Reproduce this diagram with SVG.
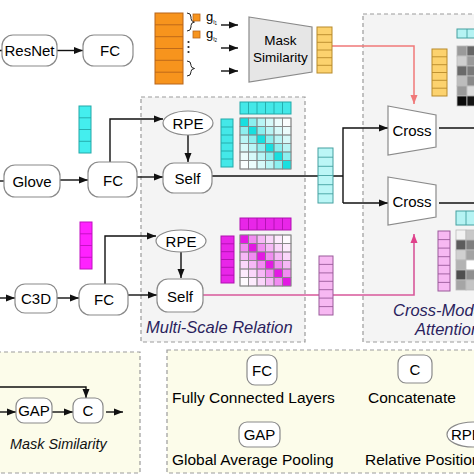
<svg xmlns="http://www.w3.org/2000/svg" xmlns:xlink="http://www.w3.org/1999/xlink" width="474" height="474" viewBox="0 0 474 474">
<defs>
<style>
.t{font-family:"Liberation Sans",Arial,Helvetica,sans-serif;font-size:15px;fill:#000;text-anchor:middle;dominant-baseline:central}
.l{font-family:"Liberation Sans",Arial,Helvetica,sans-serif;font-size:15.5px;fill:#000}
.it{font-family:"Liberation Sans",Arial,Helvetica,sans-serif;font-style:italic;font-size:16.5px;fill:#2b1f5e}
.box{fill:#fff;stroke:#8a8a8a;stroke-width:1.2}
.dash{stroke:#9b9b9b;stroke-width:1.2;stroke-dasharray:4 3}
.ln{fill:none;stroke:#111;stroke-width:1.4}
.ar{marker-end:url(#ah)}
.div{fill:none;stroke-width:0.9}
.g{stroke:#bbb;stroke-width:0.8}
</style>
<marker id="ah" markerWidth="9" markerHeight="8" refX="9" refY="4" orient="auto" markerUnits="userSpaceOnUse"><path d="M0,0.5 L9,4 L0,7.5z" fill="#111"/></marker>
<marker id="ahp" markerWidth="9" markerHeight="8" refX="9" refY="4" orient="auto" markerUnits="userSpaceOnUse"><path d="M0,0.5 L9,4 L0,7.5z" fill="#e0408a"/></marker>
<marker id="ahr" markerWidth="9" markerHeight="8" refX="9" refY="4" orient="auto" markerUnits="userSpaceOnUse"><path d="M0,0.5 L9,4 L0,7.5z" fill="#f07878"/></marker>
<g id="mat" stroke="#888" stroke-width="0.8">
<rect width="51" height="51" fill="#fff"/>
<rect x="0" y="0" width="8.5" height="8.5" fill="currentColor" fill-opacity=".9"/><rect x="8.5" y="0" width="8.5" height="8.5" fill="currentColor" fill-opacity=".45"/><rect x="17" y="0" width="8.5" height="8.5" fill="currentColor" fill-opacity=".28"/><rect x="25.5" y="0" width="8.5" height="8.5" fill="currentColor" fill-opacity=".16"/><rect x="34" y="0" width="8.5" height="8.5" fill="currentColor" fill-opacity=".08"/><rect x="42.5" y="0" width="8.5" height="8.5" fill="currentColor" fill-opacity=".02"/>
<rect x="0" y="8.5" width="8.5" height="8.5" fill="currentColor" fill-opacity=".45"/><rect x="8.5" y="8.5" width="8.5" height="8.5" fill="currentColor" fill-opacity=".9"/><rect x="17" y="8.5" width="8.5" height="8.5" fill="currentColor" fill-opacity=".45"/><rect x="25.5" y="8.5" width="8.5" height="8.5" fill="currentColor" fill-opacity=".28"/><rect x="34" y="8.5" width="8.5" height="8.5" fill="currentColor" fill-opacity=".16"/><rect x="42.5" y="8.5" width="8.5" height="8.5" fill="currentColor" fill-opacity=".08"/>
<rect x="0" y="17" width="8.5" height="8.5" fill="currentColor" fill-opacity=".28"/><rect x="8.5" y="17" width="8.5" height="8.5" fill="currentColor" fill-opacity=".45"/><rect x="17" y="17" width="8.5" height="8.5" fill="currentColor" fill-opacity=".9"/><rect x="25.5" y="17" width="8.5" height="8.5" fill="currentColor" fill-opacity=".45"/><rect x="34" y="17" width="8.5" height="8.5" fill="currentColor" fill-opacity=".28"/><rect x="42.5" y="17" width="8.5" height="8.5" fill="currentColor" fill-opacity=".16"/>
<rect x="0" y="25.5" width="8.5" height="8.5" fill="currentColor" fill-opacity=".16"/><rect x="8.5" y="25.5" width="8.5" height="8.5" fill="currentColor" fill-opacity=".28"/><rect x="17" y="25.5" width="8.5" height="8.5" fill="currentColor" fill-opacity=".45"/><rect x="25.5" y="25.5" width="8.5" height="8.5" fill="currentColor" fill-opacity=".9"/><rect x="34" y="25.5" width="8.5" height="8.5" fill="currentColor" fill-opacity=".45"/><rect x="42.5" y="25.5" width="8.5" height="8.5" fill="currentColor" fill-opacity=".28"/>
<rect x="0" y="34" width="8.5" height="8.5" fill="currentColor" fill-opacity=".08"/><rect x="8.5" y="34" width="8.5" height="8.5" fill="currentColor" fill-opacity=".16"/><rect x="17" y="34" width="8.5" height="8.5" fill="currentColor" fill-opacity=".28"/><rect x="25.5" y="34" width="8.5" height="8.5" fill="currentColor" fill-opacity=".45"/><rect x="34" y="34" width="8.5" height="8.5" fill="currentColor" fill-opacity=".9"/><rect x="42.5" y="34" width="8.5" height="8.5" fill="currentColor" fill-opacity=".45"/>
<rect x="0" y="42.5" width="8.5" height="8.5" fill="currentColor" fill-opacity=".02"/><rect x="8.5" y="42.5" width="8.5" height="8.5" fill="currentColor" fill-opacity=".08"/><rect x="17" y="42.5" width="8.5" height="8.5" fill="currentColor" fill-opacity=".16"/><rect x="25.5" y="42.5" width="8.5" height="8.5" fill="currentColor" fill-opacity=".28"/><rect x="34" y="42.5" width="8.5" height="8.5" fill="currentColor" fill-opacity=".45"/><rect x="42.5" y="42.5" width="8.5" height="8.5" fill="currentColor" fill-opacity=".9"/>
</g>
</defs>
<rect width="474" height="474" fill="#fff"/>

<!-- group regions -->
<g id="multi-scale-region">
<rect class="dash" x="141" y="97" width="164" height="245" fill="#f4f4f4"/>
<text class="it" x="146" y="333">Multi-Scale Relation</text>
</g>
<g id="cross-modal-region">
<rect class="dash" x="363" y="14" width="130" height="328" fill="#f4f4f4"/>
<text class="it" x="393" y="316">Cross-Modal</text>
<text class="it" x="415" y="335">Attention</text>
</g>
<g id="mask-similarity-region">
<rect class="dash" x="-10" y="352" width="150" height="121" fill="#fcfcea"/>
<text class="it" x="10" y="449" style="fill:#111;font-size:14.4px">Mask Similarity</text>
</g>
<g id="legend">
<rect class="dash" x="167" y="350" width="330" height="123" fill="#fcfcea"/>
<rect class="box" x="247" y="355" width="30" height="30" rx="8"/><text class="t" x="262" y="370">FC</text>
<text class="l" x="172" y="403">Fully Connected Layers</text>
<rect class="box" x="398" y="355" width="34" height="28" rx="8"/><text class="t" x="415" y="369">C</text>
<text class="l" x="368" y="403">Concatenate</text>
<rect class="box" x="239" y="422" width="41" height="25" rx="8"/><text class="t" x="259.5" y="434.5">GAP</text>
<text class="l" x="172" y="465">Global Average Pooling</text>
<ellipse class="box" cx="473" cy="434.5" rx="26" ry="12.5"/><text class="t" x="451" y="434.5" style="text-anchor:start">RPE</text>
<text class="l" x="365" y="465">Relative Position</text>
</g>

<!-- connectors -->
<g id="connectors">
<path class="ln" d="M0,50.5 H2"/>
<path class="ln ar" d="M57,50.5 H83"/>
<path class="ln" d="M0,181 H4"/>
<path class="ln ar" d="M60,180 H88"/>
<path class="ln ar" d="M110,162 V119 H163"/>
<path class="ln ar" d="M137,177 H163"/>
<path class="ln ar" d="M188,135 V162"/>
<path class="ln" d="M212,176 H343"/>
<path class="ln ar" d="M343,203 V128 H388"/>
<path class="ln ar" d="M343,203 H388"/>
<path class="ln" d="M439,128 H474"/>
<path class="ln" d="M439,203 H474"/>
<path class="ln ar" d="M0,298 H15"/>
<path class="ln ar" d="M57,298 H79"/>
<path class="ln ar" d="M105,284 V236 H156"/>
<path class="ln ar" d="M128,295 H157"/>
<path class="ln ar" d="M181,252 V278"/>
<path d="M203,295 H414 V234" fill="none" stroke="#d8589a" stroke-width="1.6" marker-end="url(#ahp)"/>
<path d="M332,46 H414 V104" fill="none" stroke="#f07878" stroke-width="1.5" marker-end="url(#ahr)"/>
<path class="ln ar" d="M221,25 H238"/>
<path class="ln ar" d="M221,48 H238"/>
<path class="ln ar" d="M221,71 H238"/>
<path class="ln ar" d="M0,387 H86 V398"/>
<path class="ln ar" d="M0,412 H16"/>
<path class="ln ar" d="M52,412 H73"/>
<path class="ln ar" d="M106,412 H123"/>
</g>

<!-- feature vectors / matrices -->
<g id="orange-features">
<rect x="155" y="13" width="28" height="71" fill="#f7941d" stroke="#b8651a" stroke-width="1"/>
<path class="div" stroke="#b8651a" d="M155,24.8H183M155,36.7H183M155,48.5H183M155,60.3H183M155,72.2H183"/>
<path d="M187,13 q4,0 4,4 v1.5 q0,3 3.5,3.5 q-3.5,0.5 -3.5,3.5 v1.5 q0,4 -4,4" fill="none" stroke="#222" stroke-width="1"/>
<path d="M187,61 q4,0 4,4 v0.5 q0,2.5 3.5,3 q-3.5,0.5 -3.5,3 v0.5 q0,4 -4,4" fill="none" stroke="#222" stroke-width="1"/>
<circle cx="188.5" cy="42" r="1.1" fill="#222"/><circle cx="188.5" cy="47" r="1.1" fill="#222"/><circle cx="188.5" cy="52" r="1.1" fill="#222"/>
<rect x="193" y="14" width="7" height="7" fill="#f7941d" stroke="#b8651a" stroke-width="0.8"/>
<rect x="193" y="31" width="7" height="7" fill="#f7941d" stroke="#b8651a" stroke-width="0.8"/>
<text x="206" y="21" style="font-family:'Liberation Sans',Arial,sans-serif;font-size:13px">g<tspan dy="3" font-size="6">l</tspan><tspan dy="1" font-size="4.5">1</tspan></text>
<text x="206" y="38" style="font-family:'Liberation Sans',Arial,sans-serif;font-size:13px">g<tspan dy="3" font-size="6">l</tspan><tspan dy="1" font-size="4.5">2</tspan></text>
</g>
<g id="yellow-features">
<rect x="317" y="27" width="15" height="46" fill="#fcd26e" stroke="#b88a2a" stroke-width="1"/>
<path class="div" stroke="#b88a2a" d="M317,34.7H332M317,42.3H332M317,50H332M317,57.7H332M317,65.3H332"/>
<rect x="432" y="49" width="15" height="47" fill="#fcd26e" stroke="#b88a2a" stroke-width="1"/>
<path class="div" stroke="#b88a2a" d="M432,56.8H447M432,64.7H447M432,72.5H447M432,80.3H447M432,88.2H447"/>
</g>
<g id="cyan-features">
<rect x="79" y="106" width="12" height="47" fill="#44eeee" stroke="#22a8a8" stroke-width="1"/>
<path class="div" stroke="#22a8a8" d="M79,117.8H91M79,129.5H91M79,141.3H91"/>
<rect x="221" y="119" width="12" height="48" fill="#44e8e8" stroke="#22a8a8" stroke-width="1"/>
<path class="div" stroke="#22a8a8" d="M221,127H233M221,135H233M221,143H233M221,151H233M221,159H233"/>
<rect x="240" y="102" width="51" height="12" fill="#44e8e8" stroke="#22a8a8" stroke-width="1"/>
<path class="div" stroke="#22a8a8" d="M248.5,102V114M257,102V114M265.5,102V114M274,102V114M282.5,102V114"/>
<use xlink:href="#mat" href="#mat" x="240" y="118" color="#00dcdc"/>
<rect x="318" y="148" width="15" height="55" fill="#bbf6f6" stroke="#44a0a0" stroke-width="1"/>
<path class="div" stroke="#44a0a0" d="M318,157.2H333M318,166.3H333M318,175.5H333M318,184.7H333M318,193.8H333"/>
<rect x="457" y="29" width="30" height="9" fill="#b5f3f3" stroke="#44a0a0" stroke-width="1"/>
<path class="div" stroke="#44a0a0" d="M467,29V38M477,29V38"/>
<rect x="456" y="211" width="30" height="14" fill="#b5f3f3" stroke="#44a0a0" stroke-width="1"/>
<path class="div" stroke="#44a0a0" d="M466,211V225M476,211V225"/>
</g>
<g id="magenta-features">
<rect x="80" y="222" width="12" height="47" fill="#ff22ff" stroke="#c010c0" stroke-width="1"/>
<path class="div" stroke="#c010c0" d="M80,233.8H92M80,245.5H92M80,257.3H92"/>
<rect x="221" y="236" width="13" height="47" fill="#e826e8" stroke="#b010b0" stroke-width="1"/>
<path class="div" stroke="#b010b0" d="M221,243.8H234M221,251.7H234M221,259.5H234M221,267.3H234M221,275.2H234"/>
<rect x="240" y="218" width="51" height="12" fill="#e826e8" stroke="#b010b0" stroke-width="1"/>
<path class="div" stroke="#b010b0" d="M248.5,218V230M257,218V230M265.5,218V230M274,218V230M282.5,218V230"/>
<use xlink:href="#mat" href="#mat" x="240" y="235" color="#e000e0"/>
<rect x="319" y="256" width="14" height="59" fill="#f7b8f2" stroke="#9a5a9a" stroke-width="1"/>
<path class="div" stroke="#9a5a9a" d="M319,264.4H333M319,272.9H333M319,281.3H333M319,289.7H333M319,298.1H333M319,306.6H333"/>
<rect x="438" y="231" width="12" height="60" fill="#f7b8f2" stroke="#9a5a9a" stroke-width="1"/>
<path class="div" stroke="#9a5a9a" d="M438,239.6H450M438,248.1H450M438,256.7H450M438,265.3H450M438,273.9H450M438,282.4H450"/>
</g>
<g id="gray-matrices">
<rect class="g" x="457" y="46" width="10" height="10" fill="#9a9a9a"/><rect class="g" x="467" y="46" width="10" height="10" fill="#666"/>
<rect class="g" x="457" y="56" width="10" height="10" fill="#cfcfcf"/><rect class="g" x="467" y="56" width="10" height="10" fill="#9a9a9a"/>
<rect class="g" x="457" y="66" width="10" height="10" fill="#6a6a6a"/><rect class="g" x="467" y="66" width="10" height="10" fill="#7a7a7a"/>
<rect class="g" x="457" y="76" width="10" height="10" fill="#bdbdbd"/><rect class="g" x="467" y="76" width="10" height="10" fill="#8a8a8a"/>
<rect class="g" x="457" y="86" width="10" height="10" fill="#9a9a9a"/><rect class="g" x="467" y="86" width="10" height="10" fill="#dcdcdc"/>
<rect class="g" x="457" y="96" width="10" height="10" fill="#0a0a0a"/><rect class="g" x="467" y="96" width="10" height="10" fill="#151515"/>
<rect class="g" x="456" y="230" width="10" height="10" fill="#f2f2f2"/><rect class="g" x="466" y="230" width="10" height="10" fill="#c8c8c8"/>
<rect class="g" x="456" y="240" width="10" height="10" fill="#5c5c5c"/><rect class="g" x="466" y="240" width="10" height="10" fill="#7f7f7f"/>
<rect class="g" x="456" y="250" width="10" height="10" fill="#d0d0d0"/><rect class="g" x="466" y="250" width="10" height="10" fill="#a3a3a3"/>
<rect class="g" x="456" y="260" width="10" height="10" fill="#b3b3b3"/><rect class="g" x="466" y="260" width="10" height="10" fill="#fff"/>
<rect class="g" x="456" y="270" width="10" height="10" fill="#4f4f4f"/><rect class="g" x="466" y="270" width="10" height="10" fill="#8f8f8f"/>
<rect class="g" x="456" y="280" width="10" height="10" fill="#a5a5a5"/><rect class="g" x="466" y="280" width="10" height="10" fill="#c4c4c4"/>
</g>

<!-- nodes -->
<g id="resnet"><rect class="box" x="2" y="35" width="55" height="31" rx="11"/><text class="t" x="29.5" y="50.5">ResNet</text></g>
<g id="fc-visual"><rect class="box" x="83" y="35" width="50" height="31" rx="11"/><text class="t" x="110" y="50.5">FC</text></g>
<g id="mask-similarity"><polygon points="249,17 312,27 312,72 249,82" fill="#e6e6e6" stroke="#8a8a8a" stroke-width="1.2"/><text class="t" x="280.5" y="40" style="font-size:13.5px">Mask</text><text class="t" x="280.5" y="57" style="font-size:13.5px">Similarity</text></g>
<g id="glove"><rect class="box" x="4" y="165" width="56" height="32" rx="11"/><text class="t" x="32" y="181">Glove</text></g>
<g id="fc-text"><rect class="box" x="88" y="162" width="49" height="35" rx="11"/><text class="t" x="113" y="180">FC</text></g>
<g id="rpe-text"><ellipse class="box" cx="188" cy="123" rx="25" ry="12"/><text class="t" x="188" y="123">RPE</text></g>
<g id="self-text"><rect class="box" x="163" y="163" width="49" height="30" rx="11"/><text class="t" x="187.5" y="178">Self</text></g>
<g id="c3d"><rect class="box" x="15" y="284" width="42" height="29" rx="10"/><text class="t" x="36" y="298.5">C3D</text></g>
<g id="fc-video"><rect class="box" x="79" y="284" width="49" height="31" rx="11"/><text class="t" x="104" y="299">FC</text></g>
<g id="rpe-video"><ellipse class="box" cx="181" cy="241" rx="25" ry="11"/><text class="t" x="181" y="241">RPE</text></g>
<g id="self-video"><rect class="box" x="157" y="279" width="46" height="33" rx="11"/><text class="t" x="180" y="296">Self</text></g>
<g id="cross-top"><polygon points="388,106 436,115 436,147 388,155" fill="#fff" stroke="#8a8a8a" stroke-width="1.2"/><text class="t" x="412" y="130">Cross</text></g>
<g id="cross-bottom"><polygon points="388,177 436,185 436,217 388,225" fill="#fff" stroke="#8a8a8a" stroke-width="1.2"/><text class="t" x="412" y="201">Cross</text></g>
<g id="gap"><rect class="box" x="16" y="398" width="36" height="25" rx="8"/><text class="t" x="34" y="410.5">GAP</text></g>
<g id="concat"><rect class="box" x="73" y="398" width="30" height="25" rx="8"/><text class="t" x="88" y="410.5">C</text></g>
</svg>
